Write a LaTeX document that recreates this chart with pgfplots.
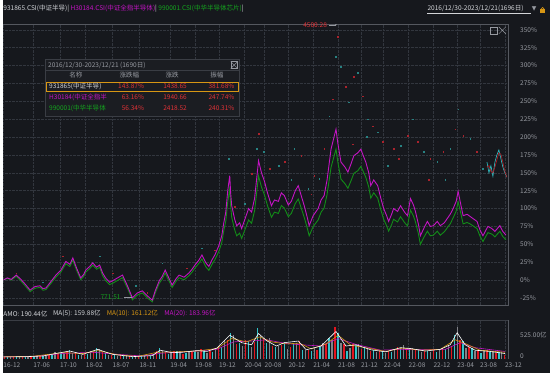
\documentclass[border=0pt]{standalone}
\usepackage{pgfplots}
\pgfplotsset{compat=1.18}
\usetikzlibrary{arrows.meta}
\usepackage{fontspec}
\setmainfont{Noto Sans CJK SC}
\newfontfamily\symfont{DejaVu Sans}
\definecolor{bg}{RGB}{22,24,29}
\definecolor{gridc}{RGB}{50,54,62}
\definecolor{framec}{RGB}{85,88,95}
\definecolor{axc}{RGB}{150,153,160}
\definecolor{mag}{RGB}{196,20,196}
\definecolor{grn}{RGB}{18,140,24}
\definecolor{grntxt}{RGB}{20,165,30}
\definecolor{dotred}{RGB}{170,35,45}
\definecolor{dotteal}{RGB}{40,130,130}
\definecolor{vred}{RGB}{228,20,30}
\definecolor{vcyan}{RGB}{50,195,200}
\definecolor{vgray}{RGB}{130,130,136}
\definecolor{orng}{RGB}{215,150,20}
\definecolor{txtw}{RGB}{210,212,216}
\definecolor{redtxt}{RGB}{225,50,55}
\definecolor{boxbg}{RGB}{27,29,34}
\definecolor{boxln}{RGB}{58,61,68}
\newcommand{\sz}{\fontsize{6.6}{7.5}\selectfont}
\begin{document}
\begin{tikzpicture}[x=1bp,y=1bp]
\fill[bg] (0,0) rectangle (550,376);
% ---------------- main price panel ----------------
\begin{axis}[at={(0bp,69bp)}, anchor=south west, scale only axis,
  width=508bp, height=283bp,
  xmin=0, xmax=508, ymin=-34.7, ymax=358.3,
  axis line style={draw=none}, tick style={draw=none},
  xtick={0,30,57,83,110,137,168,193,217,243,263,287,312,337,360,383,408,433,457,480,505},
  xticklabels={},
  ytick={-25,0,...,350},
  yticklabels={-25\%,0\%,25\%,50\%,75\%,100\%,125\%,150\%,175\%,200\%,225\%,250\%,275\%,300\%,325\%,350\%},
  yticklabel pos=right,
  yticklabel style={anchor=west, xshift=9bp, font=\sz, text=axc},
  grid=major, grid style={gridc, densely dotted, line width=0.5pt}]
% 931865 sparse candles (dots)
\addplot[only marks, mark=square*, mark size=0.35pt, draw=dotred, fill=dotred] coordinates {
(13,9.7)(60,33.3)(110,9.7)(145,-18.1)(185,16.7)(213,41.7)(233,102.8)(250,148.6)(257,204.2)(268,155.6)(283,165.3)(300,173.6)(313,145.8)(323,183.3)(332,252.8)(337,340.3)(345,270.8)(353,284.7)(362,256.9)(372,215.3)(382,193.1)(393,183.3)(407,201.4)(417,193.1)(430,169.4)(443,179.2)(455,211.1)(463,201.4)(477,179.2)(310,120)(352,190)(398,170)(428,140)};
\addplot[only marks, mark=square*, mark size=0.35pt, draw=dotteal, fill=dotteal] coordinates {
(40,-2.8)(97,33.3)(133,-8.3)(160,23.6)(200,44.4)(227,169.4)(243,106.9)(255,183.3)(262,179.2)(277,159.7)(293,183.3)(307,127.8)(318,141.7)(328,229.2)(335,312.5)(340,298.6)(348,248.6)(357,290.3)(367,225)(377,206.9)(387,159.7)(400,187.5)(412,225)(423,179.2)(437,165.3)(450,183.3)(458,238.9)(470,197.2)(483,155.6)(290,140)(366,200)(445,140)};
% 931865 end segment
\addplot[vcyan, line width=0.6pt] coordinates {(487,165)(489,150)(491,160)(493,145)(495,165)(497,175)(499,182)(501,170)(503,158)(505,150)(507,144)};
\addplot[dotred!80!red, line width=0.6pt] coordinates {(487,158)(489,160)(491,152)(493,150)(495,158)(497,168)(499,178)(501,176)(503,165)(505,152)(507,143.9)};
% 990001 green
\addplot[grn, line width=0.9pt] coordinates {
(0,0)(4,2.5)(8,0)(13,5.4)(17,0)(21,-6.4)(27,-16.2)(32,-11.3)(37,-10.3)(40,-14.2)(43,-13.2)(48,-4.5)(53,4.3)(58,11.2)(63,22.9)(67,19.0)(70,27.7)(74,13.1)(78,0.4)(81,5.3)(83,11.2)(87,16.0)(90,20.9)(94,15.1)(97,18.0)(100,6.2)(103,-0.6)(107,-6.4)(110,-4.5)(115,-0.6)(120,3.3)(125,-11.2)(130,-27.6)(135,-20.9)(140,-18.0)(145,-24.7)(150,-30.5)(153,-18.0)(157,-4.5)(160,1.3)(163,10.0)(167,-1.6)(170,-10.3)(174,-1.6)(177,3.3)(182,0.4)(187,6.2)(190,11.0)(193,16.8)(197,23.5)(200,29.6)(204,18.4)(207,13.6)(210,21.6)(213,28.3)(217,39.9)(220,52.3)(222,69.2)(224,82.3)(226,109.3)(228,127.6)(229,102.4)(230,87.7)(233,70.2)(235,61.9)(238,65.6)(240,58.2)(244,73.0)(247,84.0)(250,79.4)(253,96.9)(255,120.8)(257,145.6)(260,130)(263,119)(266,104.2)(270,87.7)(273,95)(277,93.2)(280,104.2)(283,100.6)(287,88.6)(290,93.2)(294,107)(297,113.4)(300,100.6)(303,87.7)(306,73)(308,61.9)(312,74.8)(317,84)(320,95)(323,100.6)(326,119.6)(330,157.5)(333,173)(335,183)(337,163.9)(340,141.2)(344,134.8)(347,128.4)(350,138.4)(353,149.3)(357,153)(360,158.9)(363,150.2)(365,143.8)(368,130)(370,114.6)(373,122)(377,114.6)(380,98.9)(383,85)(386,75.8)(388,68.4)(391,77.6)(393,85)(397,81.3)(400,88.7)(404,80.4)(407,75.8)(410,98)(413,89.6)(415,81.3)(418,64.7)(420,49.9)(424,61)(427,68.4)(430,61.9)(433,62.8)(437,68.4)(440,62.8)(444,67.4)(447,73)(450,78.6)(453,87)(456,96.4)(458,109.4)(460,97.4)(463,78.6)(467,80.5)(470,78.6)(474,74.8)(477,72)(480,61.5)(483,53.9)(486,61.5)(488,66.3)(492,64.3)(495,60.4)(498,65.2)(500,68.1)(503,60.9)(506,56.34)};
% H30184 magenta
\addplot[mag, line width=0.9pt] coordinates {
(0,0)(4,3)(8,1)(13,7)(17,2)(21,-4)(27,-14)(32,-9)(37,-8)(40,-12)(43,-11)(48,-2)(53,7)(58,14)(63,26)(67,22)(70,31)(74,16)(78,3)(81,8)(83,14)(87,19)(90,24)(94,18)(97,21)(100,10)(103,3)(107,-3)(110,-1)(115,3)(120,7)(125,-8)(130,-25)(135,-18)(140,-15)(145,-22)(150,-28)(153,-15)(157,-1)(160,5)(163,14)(167,2)(170,-7)(174,2)(177,7)(182,4)(187,10)(190,15)(193,21)(197,28)(200,35)(204,24)(207,19)(210,28)(213,35)(217,48)(220,62)(222,80)(224,95)(226,125)(228,146)(229,120)(230,104)(233,85)(235,76)(238,80)(240,72)(244,88)(247,100)(250,95)(253,114)(255,140)(257,167)(260,150)(263,138)(266,122)(270,104)(273,112)(277,110)(280,122)(283,118)(287,105)(290,110)(294,125)(297,132)(300,118)(303,104)(306,88)(308,76)(312,90)(317,100)(320,112)(323,118)(326,140)(330,183)(333,200)(335,211)(337,190)(340,165)(344,158)(347,151)(350,162)(353,174)(357,178)(360,183)(363,172)(365,165)(368,150)(370,132)(373,140)(377,132)(380,115)(383,100)(386,90)(388,82)(391,92)(393,100)(397,96)(400,104)(404,95)(407,90)(410,114)(413,105)(415,96)(418,78)(420,62)(424,74)(427,82)(430,75)(433,76)(437,82)(440,76)(444,80)(447,86)(450,92)(453,100)(456,110)(458,124)(460,110)(463,90)(467,92)(470,89)(474,85)(477,82)(480,70)(483,62)(486,70)(488,75)(492,72)(495,68)(498,73)(500,76)(503,68)(506,63.16)};
\end{axis}
% ---------------- volume panel ----------------
\begin{axis}[at={(0bp,15bp)}, anchor=south west, scale only axis,
  width=508bp, height=39bp,
  xmin=0, xmax=508, ymin=0, ymax=930,
  axis line style={draw=none}, tick style={draw=none},
  xtick={0,30,57,83,110,137,168,193,217,243,263,287,312,337,360,383,408,433,457,480,505},
  xticklabels={16-12,17-06,17-10,18-02,18-07,18-11,19-04,19-08,19-12,20-04,20-08,20-12,21-04,21-08,21-12,22-04,22-08,22-12,23-04,23-08,23-12},
  xticklabel style={anchor=north west, inner sep=0pt, yshift=-4bp, font=\sz, text=axc},
  ytick={0,525}, yticklabels={0,525.00亿},
  yticklabel pos=right,
  yticklabel style={anchor=west, xshift=9bp, yshift=2bp, font=\sz, text=axc},
  xmajorgrids, grid style={gridc, densely dotted, line width=0.5pt}]
\addplot[ycomb, vred, line width=1.3pt, mark=none] coordinates {
(1,45)(10,29)(19,44)(28,40)(37,55)(46,75)(55,104)(64,171)(73,143)(82,120)(91,161)(100,152)(109,86)(118,67)(127,50)(136,49)(145,56)(154,171)(163,162)(172,190)(181,115)(190,152)(199,234)(208,180)(217,310)(226,448)(235,360)(244,450)(253,408)(262,480)(271,301)(280,324)(289,279)(298,432)(307,215)(316,200)(325,344)(334,765)(343,342)(352,360)(361,217)(370,192)(379,171)(388,180)(397,275)(406,200)(415,200)(424,185)(433,204)(442,260)(451,301)(460,456)(469,279)(478,195)(487,215)(496,126)(505,96)};
\addplot[ycomb, vcyan, line width=1.3pt, mark=none] coordinates {
(4,30)(13,43)(22,45)(31,60)(40,50)(49,76)(58,133)(67,215)(76,77)(85,112)(94,257)(103,133)(112,90)(121,52)(130,38)(139,65)(148,71)(157,260)(166,98)(175,172)(184,130)(193,190)(202,215)(211,157)(220,288)(229,621)(238,361)(247,430)(256,740)(265,384)(274,279)(283,408)(292,380)(301,200)(310,192)(319,302)(328,499)(337,620)(346,182)(355,324)(364,257)(373,214)(382,180)(391,151)(400,248)(409,248)(418,228)(427,190)(436,158)(445,228)(454,558)(463,409)(472,260)(481,133)(490,152)(499,149)};
\addplot[ycomb, vgray, line width=1.3pt, mark=none] coordinates {
(7,48)(16,40)(25,36)(34,56)(43,72)(52,160)(61,119)(70,136)(79,90)(88,180)(97,240)(106,80)(115,64)(124,54)(133,57)(142,72)(151,84)(160,172)(169,140)(178,180)(187,165)(196,168)(205,132)(214,234)(223,456)(232,570)(241,301)(250,268)(259,558)(268,500)(277,310)(286,234)(295,364)(304,194)(313,247)(322,380)(331,434)(340,364)(349,257)(358,342)(367,260)(376,151)(385,132)(394,216)(403,318)(412,260)(421,151)(430,164)(439,225)(448,318)(457,765)(466,252)(475,172)(484,185)(493,181)(502,145)};
\addplot[mag, line width=0.6pt] coordinates {(0,40)(30,50)(60,120)(90,150)(115,100)(140,60)(160,130)(190,170)(215,220)(232,400)(250,420)(265,450)(285,360)(300,330)(320,300)(337,480)(355,340)(380,200)(400,220)(420,210)(445,220)(460,380)(475,260)(505,170)};
\addplot[orng, line width=0.6pt] coordinates {(0,40)(30,55)(60,140)(80,120)(95,190)(115,90)(135,50)(155,150)(175,160)(195,180)(215,240)(230,480)(245,400)(258,520)(270,400)(285,350)(298,370)(310,230)(325,350)(337,560)(350,320)(365,260)(385,170)(402,250)(420,200)(440,220)(455,450)(465,360)(480,200)(505,150)};
\addplot[white, line width=0.6pt] coordinates {(0,40)(20,42)(40,60)(55,130)(67,180)(80,100)(95,220)(110,100)(130,45)(150,70)(158,200)(170,140)(180,150)(195,190)(205,170)(215,250)(228,560)(240,380)(250,330)(257,600)(265,430)(275,300)(283,380)(297,420)(305,210)(320,300)(335,650)(345,300)(355,330)(370,210)(385,160)(400,260)(410,240)(425,180)(440,220)(450,330)(457,620)(465,330)(475,200)(490,170)(505,120)};
\end{axis}
% ---------------- frame lines ----------------
\draw[framec, line width=0.6pt] (0,352) -- (508,352) -- (508,69) -- (0,69);
\draw[boxln, line width=0.5pt] (0,54) -- (508,54);
\draw[framec, line width=0.5pt] (508,54) -- (508,15);
% icons top-right of main panel
\draw[axc, line width=0.5pt] (490,349) rectangle (497,342);
\draw[axc, line width=0.5pt] (499,349) -- (506,342) (499,342) -- (506,349);
% annotations
\node[text=redtxt, font=\sz, inner sep=0pt] at (314,351) {4500.28};
\draw[axc, line width=0.5pt, -{Stealth[length=2bp]}] (328,351) -- (336,351);
\node[text=grntxt, font=\sz, inner sep=0pt] at (108,77) {771.51};
\draw[axc, line width=0.5pt] (122,77) -- (130,77);
% header
\node[anchor=west, inner sep=0pt, font=\sz] at (0,367) {\textcolor{txtw}{931865.CSI(中证半导)}\textcolor{txtw}{ | }\textcolor{mag}{H30184.CSI(中证全指半导体)}\textcolor{txtw}{ | }\textcolor{grntxt}{990001.CSI(中华半导体芯片)}\textcolor{txtw}{ |}};
\node[anchor=west, inner sep=0pt, font=\sz, text=txtw] at (427,367) {2016/12/30-2023/12/21(1696日)};
\draw[txtw, line width=0.4pt] (427,362.5) -- (531,362.5);
\node[anchor=west, inner sep=0pt, font=\symfont\fontsize{6}{7}\selectfont, text=axc] at (532,367) {▼};
\fill[orng] (540.5,363) rectangle (545.5,367);
\draw[orng, line width=0.6pt] (541.5,367) arc (180:0:1.5);
% AMO row
\node[anchor=west, inner sep=0pt, font=\sz] at (0,60) {\textcolor{txtw}{AMO: 190.44亿}};
\node[anchor=west, inner sep=0pt, font=\sz] at (50,60) {\textcolor{txtw}{MA(5): 159.88亿}};
\node[anchor=west, inner sep=0pt, font=\sz] at (104,60) {\textcolor{orng}{MA(10): 161.12亿}};
\node[anchor=west, inner sep=0pt, font=\sz] at (162,60) {\textcolor{mag}{MA(20): 183.96亿}};
% info box
\fill[boxbg] (42,316) rectangle (238,259);
\draw[boxln, line width=0.5pt] (42,316) rectangle (238,259);
\draw[boxln, line width=0.5pt] (42,305) -- (238,305);
\node[anchor=west, inner sep=0pt, font=\sz, text=axc] at (45,310.5) {2016/12/30-2023/12/21 (1690日)};
\draw[axc, line width=0.4pt] (229,314) rectangle (236,307);
\draw[axc, line width=0.4pt] (229,314) -- (236,307) (229,307) -- (236,314);
\node[inner sep=0pt, font=\sz, text=axc] at (73,300) {名称};
\node[inner sep=0pt, font=\sz, text=axc] at (127,300) {涨跌幅};
\node[inner sep=0pt, font=\sz, text=axc] at (170,300) {涨跌};
\node[inner sep=0pt, font=\sz, text=axc] at (215,300) {振幅};
\draw[orng, line width=0.8pt] (43.5,293.5) rectangle (236.5,284);
\node[anchor=west, inner sep=0pt, font=\sz, text=txtw] at (46,289) {931865(中证半导)};
\node[anchor=east, inner sep=0pt, font=\sz, text=redtxt] at (142,289) {143.87\%};
\node[anchor=east, inner sep=0pt, font=\sz, text=redtxt] at (185,289) {1438.65};
\node[anchor=east, inner sep=0pt, font=\sz, text=redtxt] at (233,289) {381.68\%};
\node[anchor=west, inner sep=0pt, font=\sz, text=mag] at (46,278) {H30184(中证全指半};
\node[anchor=east, inner sep=0pt, font=\sz, text=redtxt] at (142,278) {63.16\%};
\node[anchor=east, inner sep=0pt, font=\sz, text=redtxt] at (185,278) {1940.66};
\node[anchor=east, inner sep=0pt, font=\sz, text=redtxt] at (233,278) {247.74\%};
\node[anchor=west, inner sep=0pt, font=\sz, text=grntxt] at (46,267) {990001(中华半导体};
\node[anchor=east, inner sep=0pt, font=\sz, text=redtxt] at (142,267) {56.34\%};
\node[anchor=east, inner sep=0pt, font=\sz, text=redtxt] at (185,267) {2418.52};
\node[anchor=east, inner sep=0pt, font=\sz, text=redtxt] at (233,267) {240.31\%};
\end{tikzpicture}
\end{document}
